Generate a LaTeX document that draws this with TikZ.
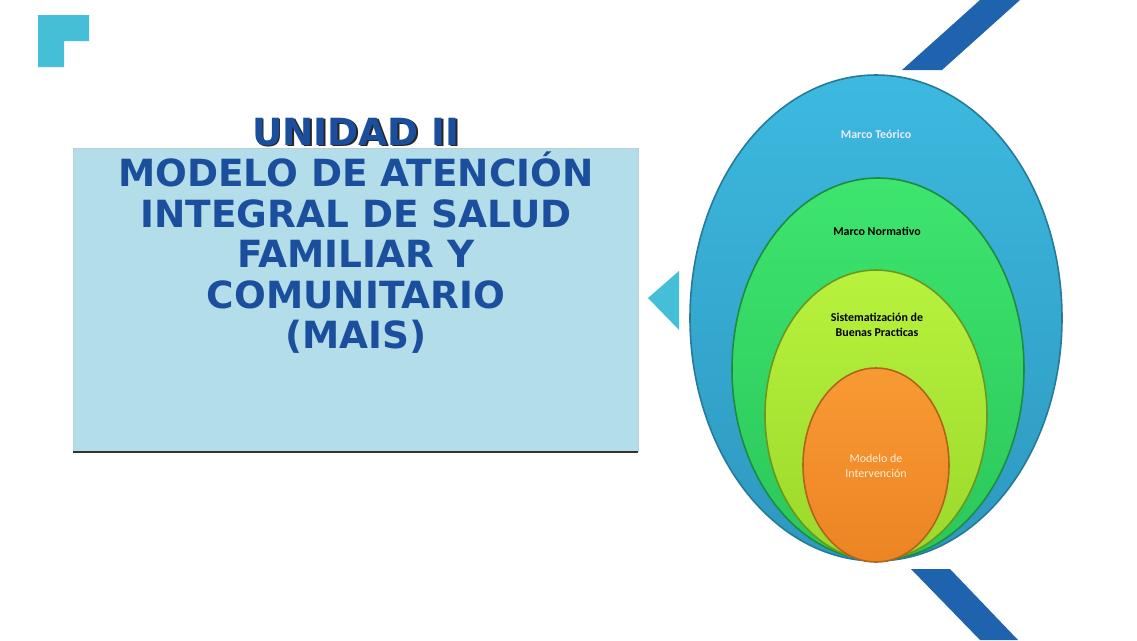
\documentclass[tikz,border=0pt]{standalone}
\usepackage{fontspec}
\setmainfont{DejaVu Sans}
\newfontfamily\calfont{Carlito}
\usetikzlibrary{positioning}

\definecolor{markteal}{HTML}{45BFD7}
\definecolor{slashblue}{HTML}{1F62AD}
\definecolor{panelblue}{HTML}{B2DDE9}
\definecolor{titleblue}{HTML}{1B4F9D}
\definecolor{ringblue}{HTML}{3DB9DF}
\definecolor{ringbluedk}{HTML}{2E98C0}
\definecolor{ringgreen}{HTML}{3DE56E}
\definecolor{ringgreendk}{HTML}{2BC65A}
\definecolor{ringlime}{HTML}{B8F23E}
\definecolor{ringlimedk}{HTML}{9AD82A}
\definecolor{ringorange}{HTML}{F89A34}
\definecolor{ringorangedk}{HTML}{EC8423}

\begin{document}
\begin{tikzpicture}[x=0.02cm,y=-0.02cm,
    title/.style={font=\bfseries\fontsize{21.3}{23}\selectfont, text=titleblue, align=center},
    ringlabel/.style={font=\calfont\bfseries\fontsize{6.8}{8.6}\selectfont, align=center, inner sep=0pt},
    ring/.style={draw=#1, line width=0.9pt}]

    % Page
    \fill[white] (0,0) rectangle (1137,640);
    \useasboundingbox (0,0) rectangle (1137,640);

    % Corner mark and slashes
    \fill[markteal] (38,15) -- (89,15) -- (89,41) -- (64,41) -- (64,67) -- (38,67) -- cycle;
    \fill[slashblue] (902,70) -- (942,70) -- (1020,0) -- (980,0) -- cycle;
    \fill[slashblue] (911,569) -- (950,569) -- (1018,640) -- (980,640) -- cycle;
    \fill[markteal] (648,298) -- (679,271) -- (679,330) -- cycle;

    % Title panel
    \fill[panelblue] (73,148) rectangle (638,452);
    \draw[panelblue!80!black!60, line width=0.4pt] (73,452) -- (73,148) -- (638,148) -- (638,452);
    \draw[black!80, line width=1.2pt] (73,452) -- (638,452);

    % Title text
    \node[title, text=black!85, anchor=base] at (357.5,146.5) {UNIDAD II};
    \node[title, anchor=base] (unidad) at (356,145) {UNIDAD II};
    \node[title, anchor=base] (mais) at (356,348.5)
        {MODELO DE ATENCIÓN\\INTEGRAL DE SALUD\\FAMILIAR Y\\COMUNITARIO\\(MAIS)};

    % Nested ellipses
    \shade[top color=ringblue, bottom color=ringbluedk, ring=ringbluedk!80!black]
        (876,318) ellipse [x radius=186, y radius=243];
    \shade[top color=ringgreen, bottom color=ringgreendk, ring=ringgreendk!70!black]
        (878,369) ellipse [x radius=146, y radius=191];
    \shade[top color=ringlime, bottom color=ringlimedk, ring=ringlimedk!70!black]
        (876,415) ellipse [x radius=111, y radius=145];
    \shade[top color=ringorange, bottom color=ringorangedk, ring=ringorangedk!75!black]
        (876,465) ellipse [x radius=73, y radius=97];

    % Ellipse labels
    \node[ringlabel, text=white!92!blue] (teorico) at (876,134) {Marco Teórico};
    \node[ringlabel, text=black] (normativo) at (877,231) {Marco Normativo};
    \node[ringlabel, text=black] (practicas) at (877,325) {Sistematización de\\Buenas Practicas};
    \node[ringlabel, font=\calfont\fontsize{6.8}{8.6}\selectfont, text=orange!15!white] (intervencion) at (876,466) {Modelo de\\Intervención};

\end{tikzpicture}
\end{document}
